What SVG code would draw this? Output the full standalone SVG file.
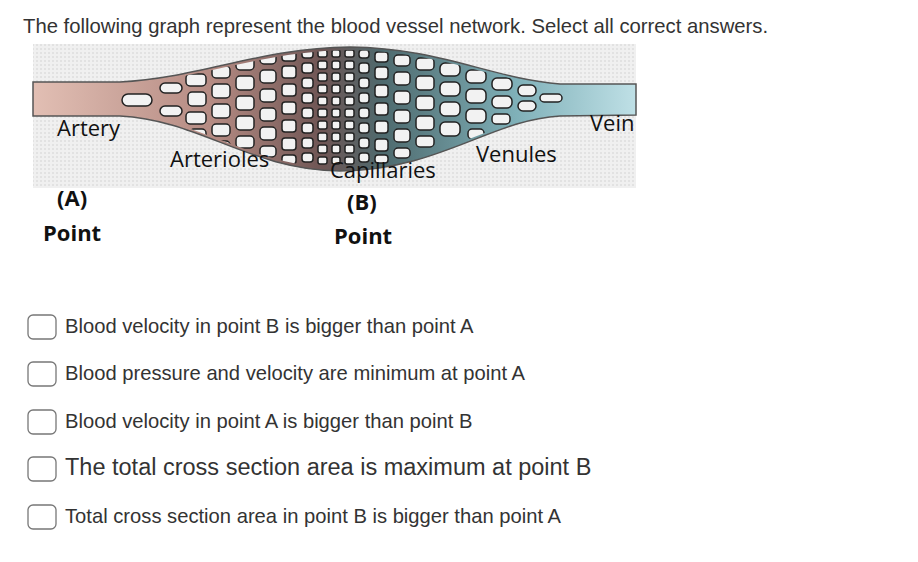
<svg xmlns="http://www.w3.org/2000/svg" width="918" height="562" viewBox="0 0 918 562">
<defs>
<linearGradient id="g" x1="0" x2="1" y1="0" y2="0">
<stop offset="0" stop-color="#e2bfb4"/><stop offset="0.3" stop-color="#b48a82"/><stop offset="0.48" stop-color="#6e5554"/><stop offset="0.58" stop-color="#4e6a6e"/><stop offset="0.8" stop-color="#7fb0b8"/><stop offset="1" stop-color="#bfe0e6"/>
</linearGradient>
<pattern id="dots" width="4" height="4" patternUnits="userSpaceOnUse"><rect width="4" height="4" fill="#f0f0f0"/><rect width="2" height="2" fill="#e2e2e2"/></pattern>
<clipPath id="cl"><path d="M33,84 L120,84 C200,80 260,51 350,50 C440,51 490,80 560,86 L636,86 L636,113 L560,114 C490,118 440,167 340,168 C250,167 200,118 120,114 L33,114 Z"/></clipPath>
<style>
.t{font-family:"Liberation Sans",Arial,sans-serif;fill:#333}
.l{font-family:"Open Sans","Noto Sans",sans-serif;font-size:22px;fill:#111}
.b{font-family:"Open Sans","Noto Sans",sans-serif;font-size:22px;font-weight:bold;fill:#111}
.h rect{fill:#f2f2f2;stroke:#222;stroke-width:1.5}
.cb{fill:#fff;stroke:#777;stroke-width:1.3}
</style>
</defs>
<text class="t" x="23" y="33" font-size="20.3">The following graph represent the blood vessel network. Select all correct answers.</text>
<rect x="33" y="44" width="603" height="144" fill="url(#dots)"/>
<path d="M33,82 L120,82 C200,78 260,48 350,47 C440,48 490,78 560,84 L636,84 L636,115 L560,116 C490,120 440,170 340,171 C250,170 200,120 120,116 L33,116 Z" fill="url(#g)" stroke="#555" stroke-width="1.5"/>
<g class="h" clip-path="url(#cl)">
<rect x="122" y="94" width="30" height="12" rx="6"/>
<rect x="160" y="83" width="22" height="10" rx="5"/><rect x="160" y="106" width="22" height="10" rx="5"/>
<rect x="186" y="74" width="20" height="12" rx="4"/><rect x="188" y="92" width="18" height="14" rx="4"/><rect x="186" y="112" width="20" height="12" rx="4"/><rect x="190" y="129" width="16" height="10" rx="4"/>
<rect x="212" y="66" width="18" height="12" rx="4"/><rect x="212" y="84" width="18" height="14" rx="4"/><rect x="212" y="104" width="18" height="14" rx="4"/><rect x="212" y="124" width="18" height="12" rx="4"/><rect x="214" y="141" width="16" height="10" rx="4"/>
<rect x="236" y="58" width="18" height="12" rx="4"/><rect x="236" y="76" width="18" height="14" rx="4"/><rect x="236" y="96" width="18" height="14" rx="4"/><rect x="236" y="116" width="18" height="14" rx="4"/><rect x="236" y="136" width="18" height="12" rx="4"/><rect x="238" y="153" width="14" height="9" rx="4"/>
<rect x="260" y="53" width="16" height="11" rx="4"/><rect x="260" y="70" width="16" height="13" rx="4"/><rect x="260" y="89" width="16" height="13" rx="4"/><rect x="260" y="108" width="16" height="13" rx="4"/><rect x="260" y="127" width="16" height="13" rx="4"/><rect x="260" y="146" width="16" height="11" rx="4"/><rect x="262" y="160" width="12" height="7" rx="3"/>
<rect x="282" y="51" width="14" height="10" rx="3"/><rect x="282" y="66" width="14" height="12" rx="3"/><rect x="282" y="84" width="14" height="12" rx="3"/><rect x="282" y="102" width="14" height="12" rx="3"/><rect x="282" y="120" width="14" height="12" rx="3"/><rect x="282" y="138" width="14" height="12" rx="3"/><rect x="282" y="155" width="14" height="9" rx="3"/>
<rect x="302" y="50" width="11" height="8" rx="3"/><rect x="302" y="63" width="11" height="10" rx="3"/><rect x="302" y="78" width="11" height="10" rx="3"/><rect x="302" y="93" width="11" height="10" rx="3"/><rect x="302" y="108" width="11" height="10" rx="3"/><rect x="302" y="123" width="11" height="10" rx="3"/><rect x="302" y="138" width="11" height="10" rx="3"/><rect x="302" y="153" width="11" height="9" rx="3"/>
<rect x="318" y="50" width="9" height="7" rx="2"/><rect x="318" y="61" width="9" height="8" rx="2"/><rect x="318" y="73" width="9" height="8" rx="2"/><rect x="318" y="85" width="9" height="8" rx="2"/><rect x="318" y="97" width="9" height="8" rx="2"/><rect x="318" y="109" width="9" height="8" rx="2"/><rect x="318" y="121" width="9" height="8" rx="2"/><rect x="318" y="133" width="9" height="8" rx="2"/><rect x="318" y="145" width="9" height="8" rx="2"/><rect x="318" y="157" width="9" height="7" rx="2"/>
<rect x="332" y="50" width="8" height="7" rx="2"/><rect x="332" y="61" width="8" height="8" rx="2"/><rect x="332" y="73" width="8" height="8" rx="2"/><rect x="332" y="85" width="8" height="8" rx="2"/><rect x="332" y="97" width="8" height="8" rx="2"/><rect x="332" y="109" width="8" height="8" rx="2"/><rect x="332" y="121" width="8" height="8" rx="2"/><rect x="332" y="133" width="8" height="8" rx="2"/><rect x="332" y="145" width="8" height="8" rx="2"/><rect x="332" y="157" width="8" height="7" rx="2"/>
<rect x="345" y="50" width="9" height="7" rx="2"/><rect x="345" y="61" width="9" height="8" rx="2"/><rect x="345" y="73" width="9" height="8" rx="2"/><rect x="345" y="85" width="9" height="8" rx="2"/><rect x="345" y="97" width="9" height="8" rx="2"/><rect x="345" y="109" width="9" height="8" rx="2"/><rect x="345" y="121" width="9" height="8" rx="2"/><rect x="345" y="133" width="9" height="8" rx="2"/><rect x="345" y="145" width="9" height="8" rx="2"/><rect x="345" y="157" width="9" height="7" rx="2"/>
<rect x="359" y="50" width="10" height="8" rx="3"/><rect x="359" y="63" width="10" height="10" rx="3"/><rect x="359" y="78" width="10" height="10" rx="3"/><rect x="359" y="93" width="10" height="10" rx="3"/><rect x="359" y="108" width="10" height="10" rx="3"/><rect x="359" y="123" width="10" height="10" rx="3"/><rect x="359" y="138" width="10" height="10" rx="3"/><rect x="359" y="153" width="10" height="9" rx="3"/>
<rect x="375" y="52" width="13" height="10" rx="3"/><rect x="375" y="67" width="13" height="12" rx="3"/><rect x="375" y="85" width="13" height="12" rx="3"/><rect x="375" y="103" width="13" height="12" rx="3"/><rect x="375" y="121" width="13" height="12" rx="3"/><rect x="375" y="139" width="13" height="12" rx="3"/><rect x="375" y="155" width="13" height="8" rx="3"/>
<rect x="394" y="55" width="16" height="11" rx="4"/><rect x="394" y="72" width="16" height="13" rx="4"/><rect x="394" y="91" width="16" height="13" rx="4"/><rect x="394" y="110" width="16" height="13" rx="4"/><rect x="394" y="129" width="16" height="13" rx="4"/><rect x="394" y="148" width="16" height="10" rx="4"/>
<rect x="416" y="58" width="18" height="12" rx="4"/><rect x="416" y="76" width="18" height="14" rx="4"/><rect x="416" y="96" width="18" height="14" rx="4"/><rect x="416" y="116" width="18" height="14" rx="4"/><rect x="416" y="136" width="18" height="11" rx="4"/>
<rect x="440" y="63" width="20" height="13" rx="5"/><rect x="440" y="82" width="20" height="14" rx="5"/><rect x="440" y="102" width="20" height="14" rx="5"/><rect x="440" y="122" width="20" height="14" rx="5"/>
<rect x="466" y="70" width="20" height="13" rx="5"/><rect x="466" y="89" width="20" height="14" rx="5"/><rect x="466" y="109" width="20" height="14" rx="5"/><rect x="468" y="129" width="16" height="10" rx="4"/>
<rect x="492" y="78" width="20" height="12" rx="5"/><rect x="492" y="96" width="20" height="12" rx="5"/><rect x="492" y="114" width="18" height="10" rx="4"/>
<rect x="518" y="85" width="18" height="11" rx="5"/><rect x="518" y="101" width="18" height="10" rx="5"/>
<rect x="540" y="94" width="22" height="8" rx="4"/>
</g>
<text class="l" x="57" y="136">Artery</text>
<text class="l" x="590" y="131">Vein</text>
<text class="l" x="170" y="167">Arterioles</text>
<text class="l" x="330" y="178">Capillaries</text>
<text class="l" x="476" y="162">Venules</text>
<text class="b" x="57" y="206">(A)</text>
<text class="b" x="43" y="241">Point</text>
<text class="b" x="347" y="210">(B)</text>
<text class="b" x="334" y="244">Point</text>
<rect class="cb" x="28" y="315" width="28" height="24" rx="5"/>
<rect class="cb" x="28" y="362" width="28" height="24" rx="5"/>
<rect class="cb" x="28" y="410" width="28" height="24" rx="5"/>
<rect class="cb" x="28" y="457" width="28" height="24" rx="5"/>
<rect class="cb" x="28" y="505" width="28" height="24" rx="5"/>
<text class="t" x="65" y="333" font-size="20.2">Blood velocity in point B is bigger than point A</text>
<text class="t" x="65" y="380" font-size="20.2">Blood pressure and velocity are minimum at point A</text>
<text class="t" x="65" y="428" font-size="20.2">Blood velocity in point A is bigger than point B</text>
<text class="t" x="65" y="475" font-size="23.5">The total cross section area is maximum at point B</text>
<text class="t" x="65" y="523" font-size="20.2">Total cross section area in point B is bigger than point A</text>
</svg>
